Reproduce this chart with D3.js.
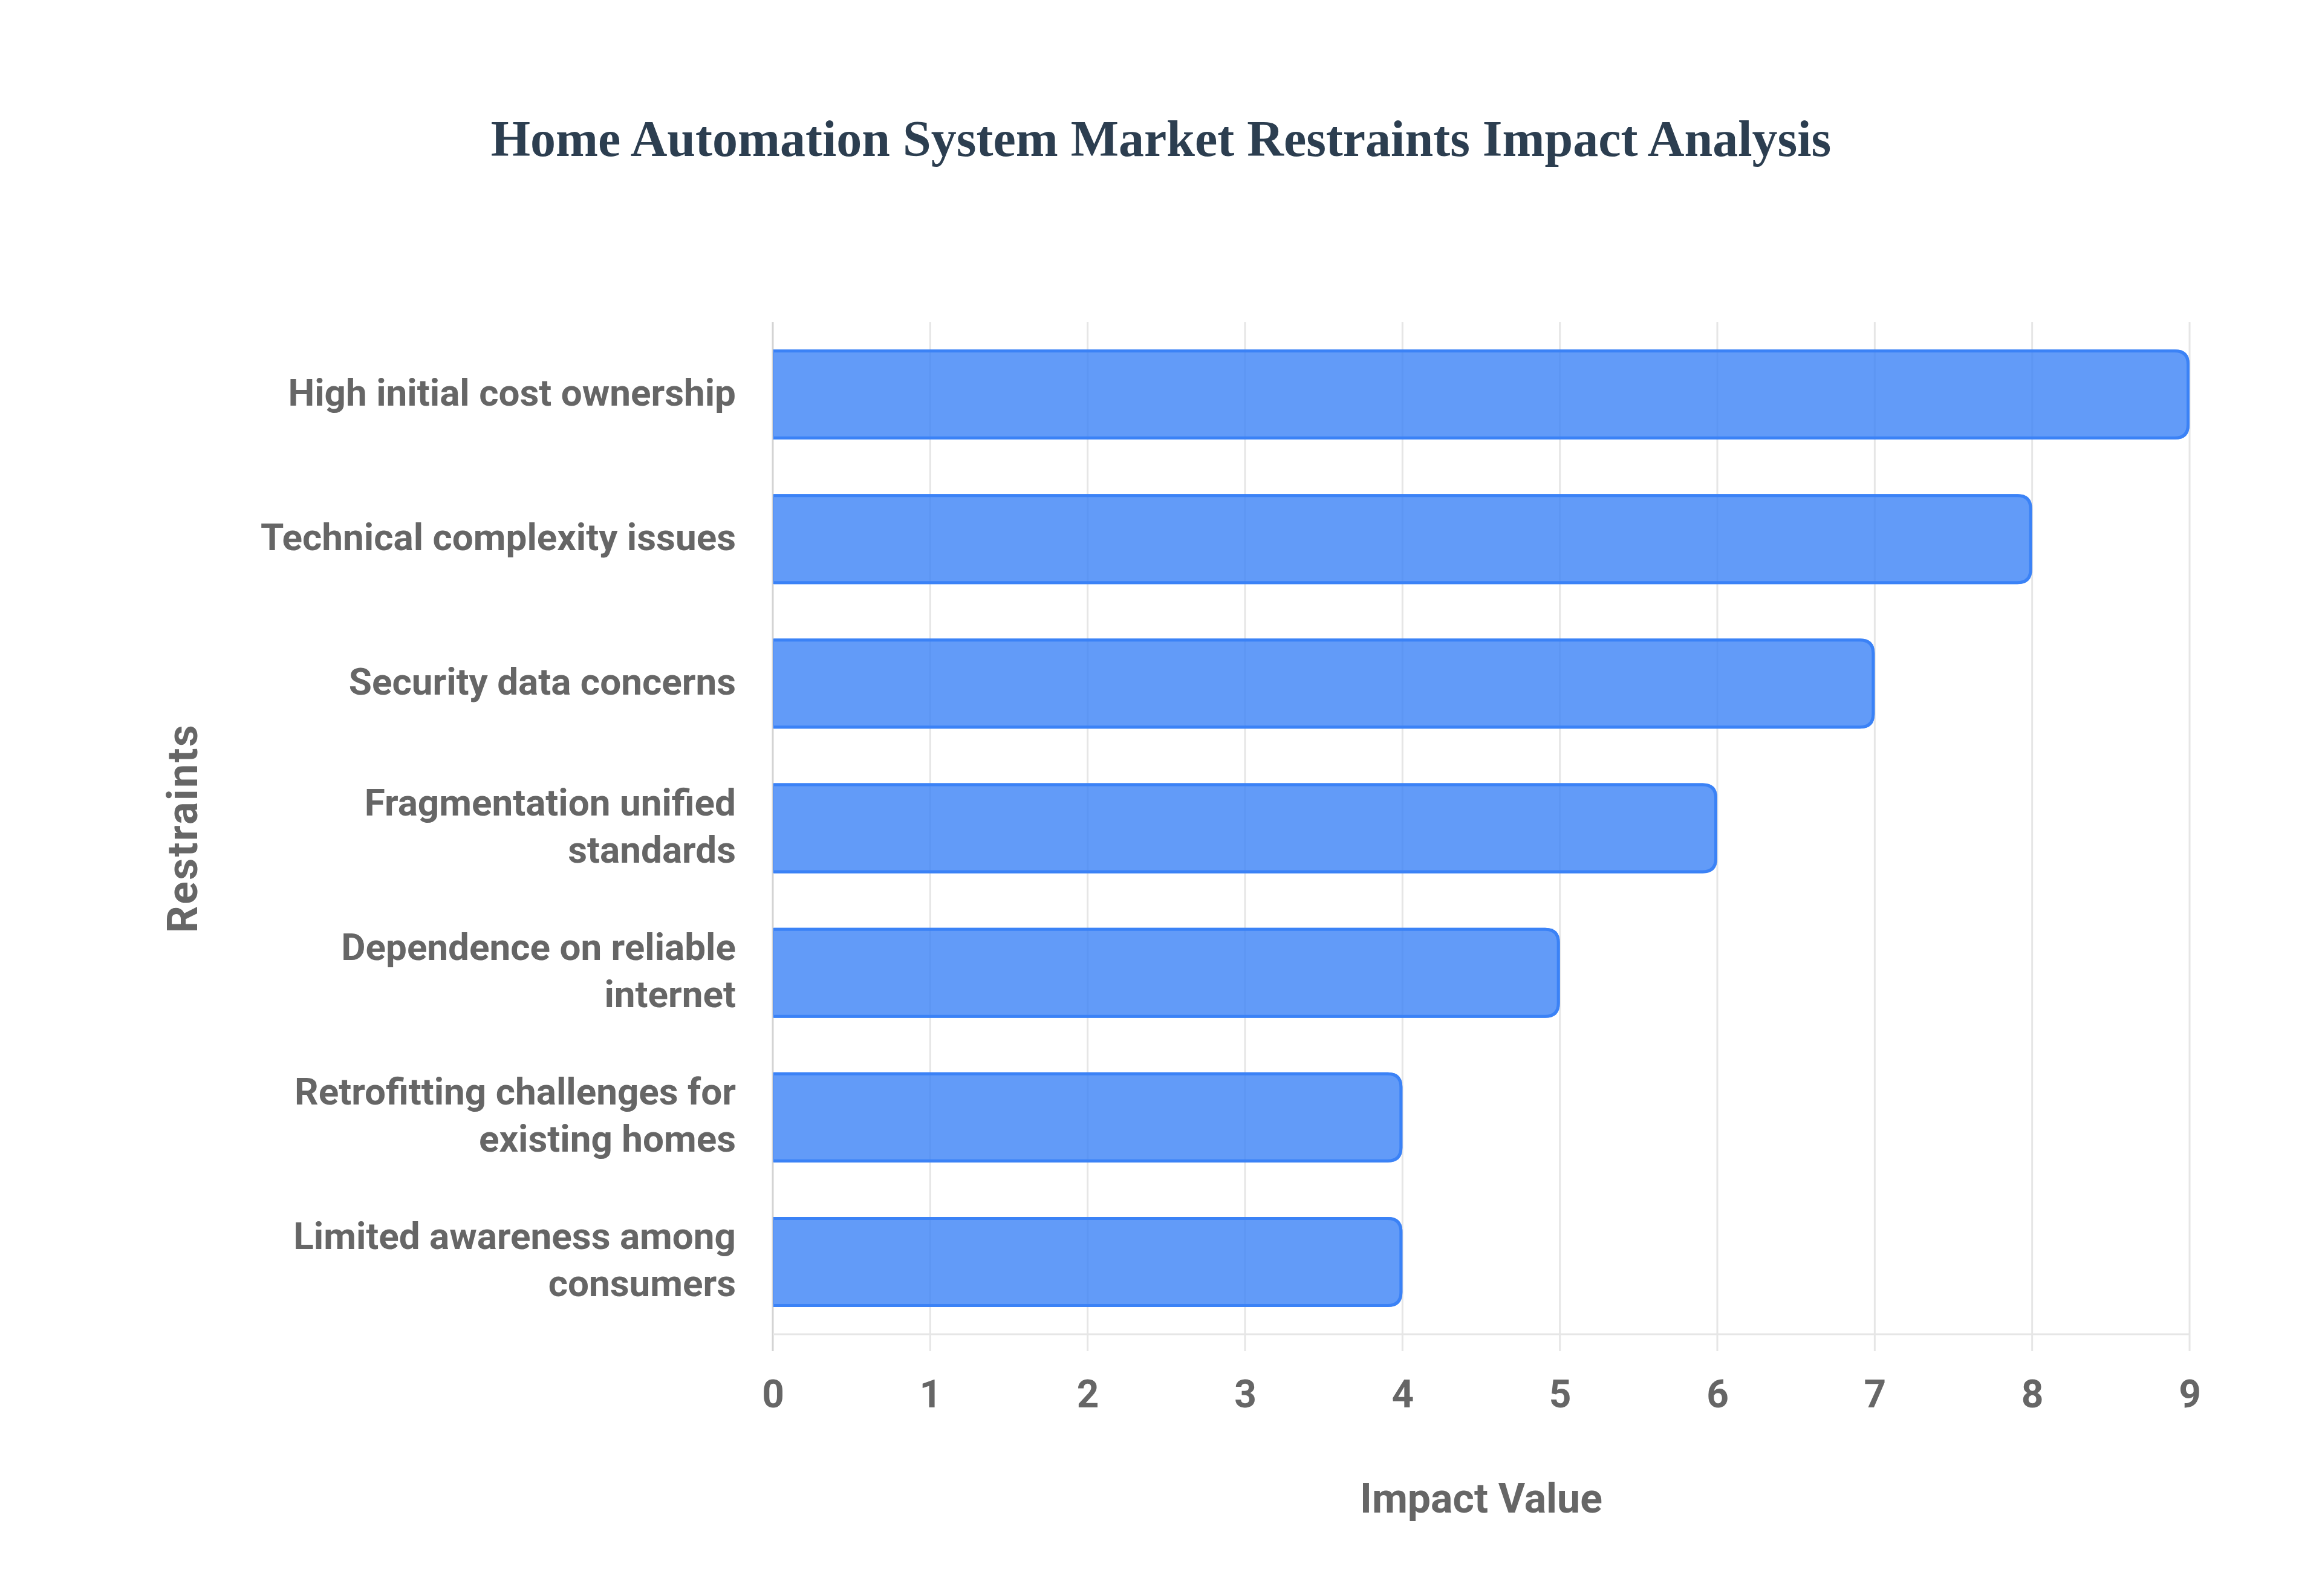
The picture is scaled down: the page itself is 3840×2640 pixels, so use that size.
<!DOCTYPE html>
<html>
<head>
<meta charset="utf-8">
<script src="https://cdn.jsdelivr.net/npm/d3@7"></script>
<style>
  html, body { margin: 0; padding: 0; background: #fff; }
  svg { display: block; }
</style>
</head>
<body>
<svg id="chart"></svg>
<script>
// chart data
const restraints = [
  ['High initial cost ownership'],
  ['Technical complexity issues'],
  ['Security data concerns'],
  ['Fragmentation unified', 'standards'],
  ['Dependence on reliable', 'internet'],
  ['Retrofitting challenges for', 'existing homes'],
  ['Limited awareness among', 'consumers']
];
const impactValues = [9, 8, 7, 6, 5, 4, 4];
const xTicks = [0, 1, 2, 3, 4, 5, 6, 7, 8, 9];

const titleText = 'Home Automation System Market Restraints Impact Analysis';
const xTitle = 'Impact Value';
const yTitle = 'Restraints';

const W = 3840, H = 2640;
const plot = { left: 1278, right: 3621, top: 533, bottom: 2207 };
const tickFont = 'Roboto, "Liberation Sans", sans-serif';
const gridColor = '#e6e6e6';
const labelColor = '#666666';

const svg = d3.select('#chart').attr('width', W).attr('height', H);
svg.append('rect').attr('width', W).attr('height', H).attr('fill', '#fff');

const x = d3.scaleLinear().domain([0, 9]).range([plot.left, plot.right]);
const y = d3.scaleBand()
  .domain(restraints.map((d, i) => i))
  .range([plot.top, plot.bottom])
  .paddingInner(0.377)
  .paddingOuter(0.1885);

// title
svg.append('text')
  .attr('x', W / 2).attr('y', 258)
  .attr('text-anchor', 'middle')
  .attr('font-family', '"Liberation Serif", "Times New Roman", serif')
  .attr('font-weight', 'bold')
  .attr('font-size', 84)
  .attr('fill', '#2c3e50')
  .text(titleText);

// vertical grid lines (run past the bottom axis as tick marks)
const grid = svg.append('g').attr('class', 'grid');
grid.selectAll('line').data(xTicks).join('line')
  .attr('x1', (d) => x(d)).attr('x2', (d) => x(d))
  .attr('y1', plot.top).attr('y2', plot.bottom + 28)
  .attr('stroke', (d) => (d === 0 ? '#d4d4d4' : gridColor))
  .attr('stroke-width', 3);

// bottom axis line
svg.append('line')
  .attr('x1', plot.left).attr('x2', plot.right)
  .attr('y1', plot.bottom).attr('y2', plot.bottom)
  .attr('stroke', gridColor).attr('stroke-width', 3);

// x axis labels, via d3 axis
const xAxis = d3.axisBottom(x).tickValues(xTicks).tickFormat(d3.format('d')).tickSize(0).tickPadding(0);
const gx = svg.append('g').attr('transform', `translate(0,${plot.bottom})`).call(xAxis);
gx.select('.domain').remove();
gx.selectAll('text')
  .attr('dy', null)
  .attr('y', 121)
  .attr('font-family', tickFont)
  .attr('font-weight', 'bold')
  .attr('font-size', 64)
  .attr('fill', labelColor);

// bars: rounded right end, no border on the start side
const bw = 5;
function barFill(d, i) {
  const x0 = x(0), x1 = x(d), y0 = y(i), h = y.bandwidth();
  const r = Math.min(24, (x1 - x0) / 2);
  return `M${x0},${y0}H${x1 - r}Q${x1},${y0} ${x1},${y0 + r}V${y0 + h - r}Q${x1},${y0 + h} ${x1 - r},${y0 + h}H${x0}Z`;
}
function barEdge(d, i) {
  const x0 = x(0) + 2, x1 = x(d) - bw / 2, y0 = y(i) + bw / 2, h = y.bandwidth() - bw;
  const r = 22;
  return `M${x0},${y0}H${x1 - r}Q${x1},${y0} ${x1},${y0 + r}V${y0 + h - r}Q${x1},${y0 + h} ${x1 - r},${y0 + h}H${x0}`;
}
const bars = svg.append('g').attr('class', 'bars');
bars.selectAll('path.fill').data(impactValues).join('path')
  .attr('class', 'fill')
  .attr('d', barFill)
  .attr('fill', 'rgba(59,130,246,0.8)');
bars.selectAll('path.edge').data(impactValues).join('path')
  .attr('class', 'edge')
  .attr('d', barEdge)
  .attr('fill', 'none')
  .attr('stroke', '#3b82f6')
  .attr('stroke-width', bw);

// y labels (multi-line, right aligned)
const lineH = 78;
const yLab = svg.append('g').attr('class', 'y-labels');
yLab.selectAll('text').data(restraints).join('text')
  .attr('text-anchor', 'end')
  .attr('font-family', tickFont)
  .attr('font-weight', 'bold')
  .attr('font-size', 62)
  .attr('fill', labelColor)
  .each(function (lines, i) {
    const cy = y(i) + y.bandwidth() / 2;
    const first = cy - ((lines.length - 1) * lineH) / 2 + 18;
    d3.select(this).selectAll('tspan').data(lines).join('tspan')
      .attr('x', plot.left - 61)
      .attr('y', (t, j) => first + j * lineH)
      .text((t) => t);
  });

// axis titles
svg.append('text')
  .attr('x', (plot.left + plot.right) / 2).attr('y', 2502)
  .attr('text-anchor', 'middle')
  .attr('font-family', tickFont)
  .attr('font-weight', 'bold')
  .attr('font-size', 68)
  .attr('fill', labelColor)
  .text(xTitle);

svg.append('text')
  .attr('transform', `translate(326,${(plot.top + plot.bottom) / 2}) rotate(-90)`)
  .attr('text-anchor', 'middle')
  .attr('font-family', tickFont)
  .attr('font-weight', 'bold')
  .attr('font-size', 70)
  .attr('letter-spacing', 2.5)
  .attr('fill', labelColor)
  .text(yTitle);
</script>
</body>
</html>
